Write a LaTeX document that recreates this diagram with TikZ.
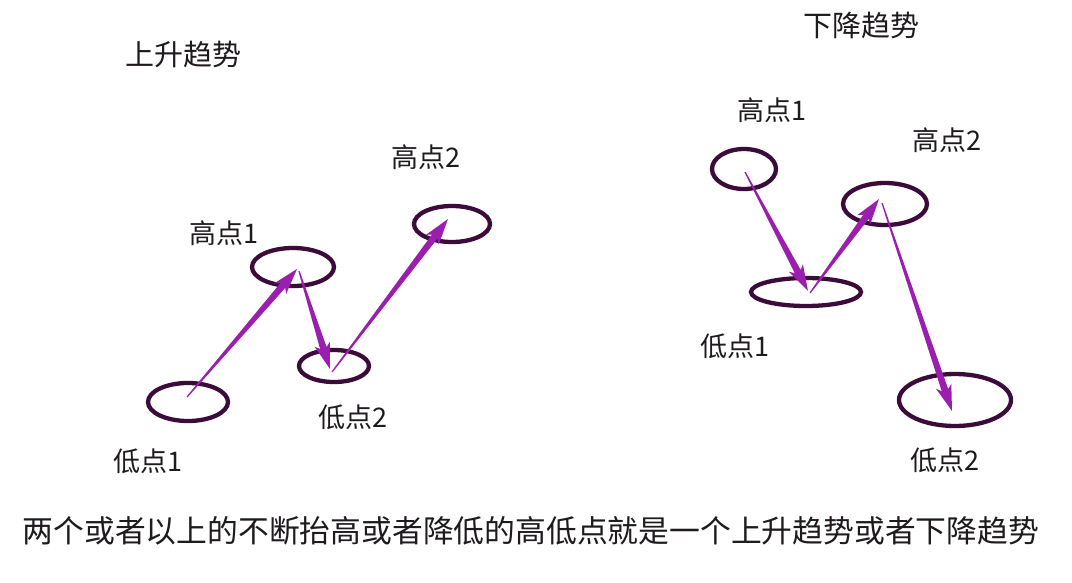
\documentclass[tikz,border=0pt]{standalone}
\usepackage{fontspec}
\setmainfont{Noto Sans CJK SC}
\usetikzlibrary{calc}
\definecolor{ringc}{HTML}{3B0B3A}
\definecolor{arrowc}{HTML}{9A1FAE}
\definecolor{txtc}{HTML}{1E1A1E}
\tikzset{
  lbl/.style={text=txtc,font=\fontsize{27}{27}\selectfont,inner sep=0pt},
  ttl/.style={text=txtc,font=\fontsize{29}{29}\selectfont,inner sep=0pt},
  ring/.style={draw=ringc,line width=4.3pt},
}
\newcommand\taperarrow[2]{%
  \fill[arrowc] let \p1=($(#2)-(#1)$), \n1={atan2(\y1,\x1)} in
   ($(#1)+(\n1+90:0.6pt)$) -- ($(#2)+(\n1+180:22pt)+(\n1+90:3.4pt)$)
   -- ($(#2)+(\n1+180:26pt)+(\n1+90:8pt)$) -- (#2)
   -- ($(#2)+(\n1+180:26pt)+(\n1-90:8pt)$) -- ($(#2)+(\n1+180:22pt)+(\n1-90:3.4pt)$)
   -- ($(#1)+(\n1-90:0.6pt)$) -- cycle;}
\begin{document}
\begin{tikzpicture}[x=1pt,y=-1pt]
\fill[white] (0,0) rectangle (1072,583);
\useasboundingbox (0,0) rectangle (1072,583);
% titles
\node[ttl] (tup) at (183,55) {上升趋势};
\node[ttl] (tdown) at (861,25) {下降趋势};
% left rings
\draw[ring] (188,402) ellipse [x radius=40, y radius=19];
\draw[ring] (293,267) ellipse [x radius=41, y radius=19];
\draw[ring] (334,366) ellipse [x radius=35, y radius=16];
\draw[ring] (452,224) ellipse [x radius=38, y radius=18];
% right rings
\draw[ring] (744,169) ellipse [x radius=32, y radius=20];
\draw[ring] (806,292) ellipse [x radius=55, y radius=14];
\draw[ring] (885,204) ellipse [x radius=42, y radius=21];
\draw[ring] (955,400) ellipse [x radius=56, y radius=26];
% left arrow points
\coordinate (la) at (187,397);
\coordinate (lb) at (297,269);
\coordinate (lb2) at (299,271);
\coordinate (lc) at (330,369);
\coordinate (lc2) at (332,372);
\coordinate (ld) at (448,219);
\taperarrow{la}{lb}
\taperarrow{lb2}{lc}
\taperarrow{lc2}{ld}
% right arrow points
\coordinate (ra) at (745,172);
\coordinate (rb) at (808,291);
\coordinate (rb2) at (810,293);
\coordinate (rc) at (879,199);
\coordinate (rc2) at (882,203);
\coordinate (rd) at (952,411);
\taperarrow{ra}{rb}
\taperarrow{rb2}{rc}
\taperarrow{rc2}{rd}
% left labels
\node[lbl] (lh1) at (224,233) {高点1};
\node[lbl] (lh2) at (426,157) {高点2};
\node[lbl] (ll1) at (148,461) {低点1};
\node[lbl] (ll2) at (353,417) {低点2};
% right labels
\node[lbl] (rh1) at (772,110) {高点1};
\node[lbl] (rh2) at (947,140) {高点2};
\node[lbl] (rl1) at (735,346) {低点1};
\node[lbl] (rl2) at (945,460) {低点2};
% caption
\node[text=txtc,font=\fontsize{30.8}{30.8}\selectfont,inner sep=0pt] (cap) at (531,531) {两个或者以上的不断抬高或者降低的高低点就是一个上升趋势或者下降趋势};
\end{tikzpicture}
\end{document}
